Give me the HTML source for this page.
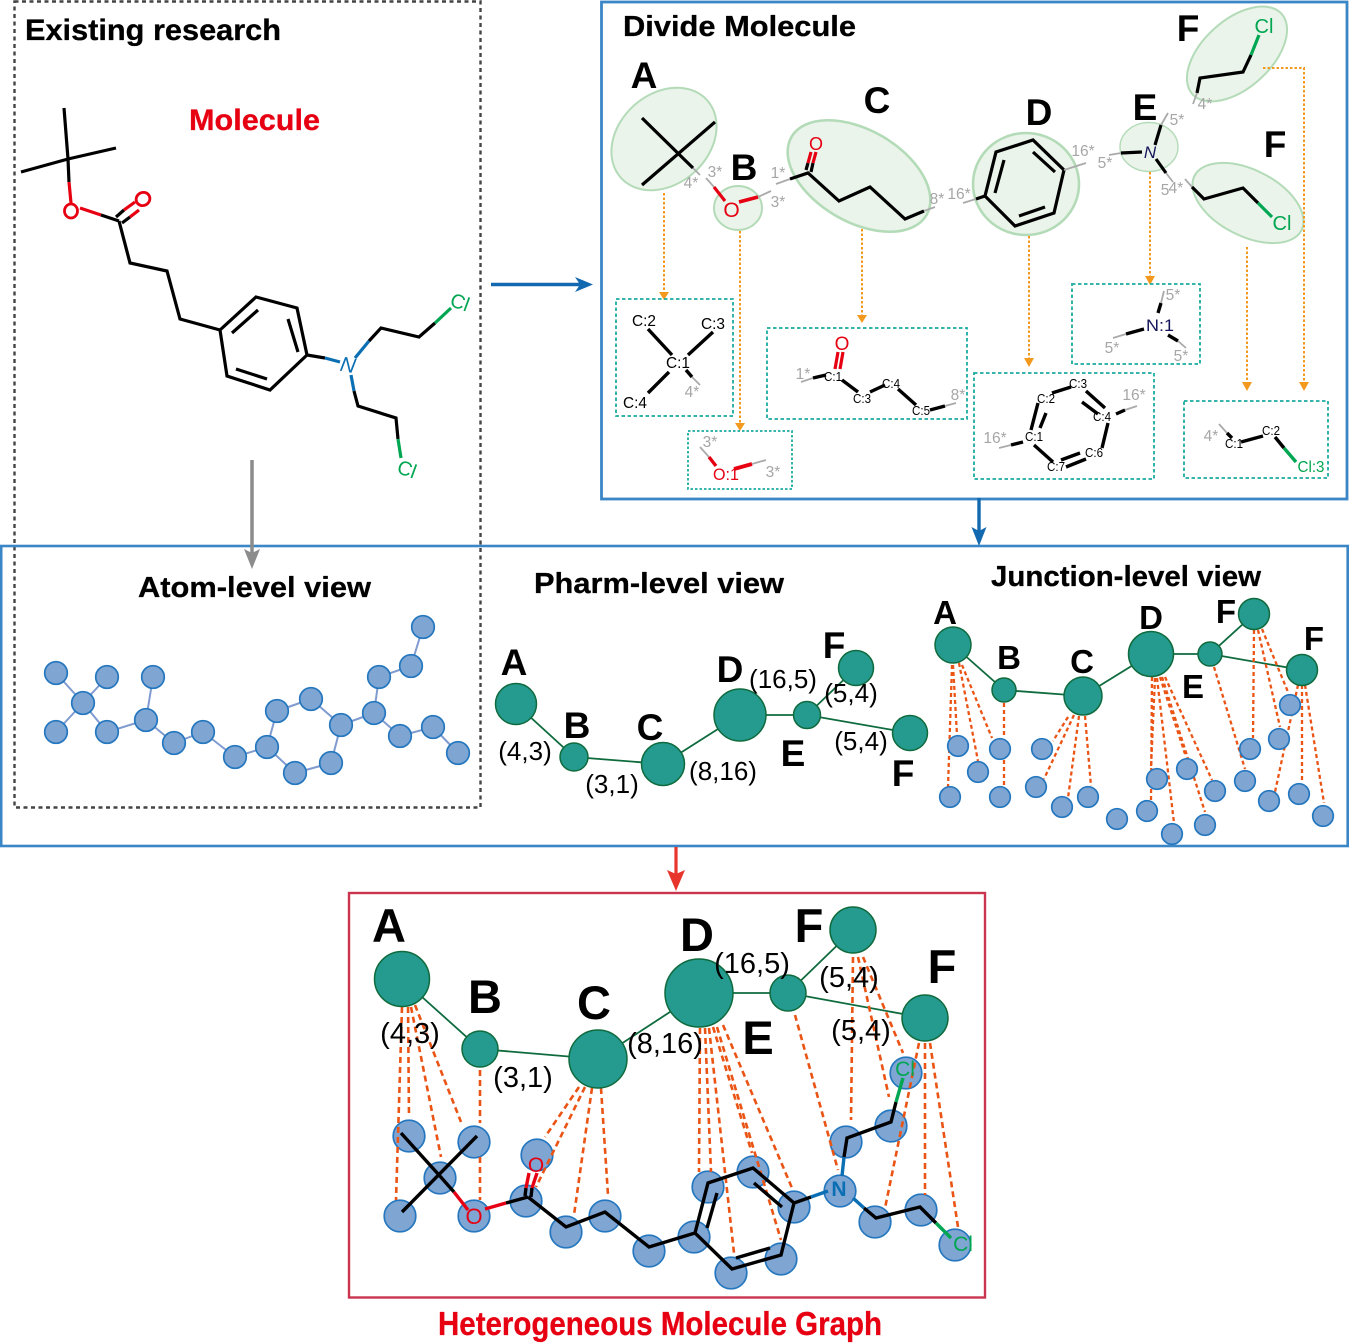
<!DOCTYPE html>
<html>
<head>
<meta charset="utf-8">
<style>
html,body{margin:0;padding:0;background:#fff;width:1349px;height:1343px;overflow:hidden}
svg{display:block}
text{font-family:"Liberation Sans",sans-serif}
.t{font-weight:bold;fill:#000;stroke:#000;stroke-width:.3}
.L{font-weight:bold;fill:#000;text-anchor:middle}
.p{fill:#000;text-anchor:middle}
.k{stroke:#000;stroke-width:3.2;fill:none;stroke-linejoin:miter}
.k2{stroke:#000;stroke-width:3.4;fill:none}
.r{stroke:#e60012;stroke-width:3.2;fill:none}
.g{stroke:#00a651;stroke-width:3.2;fill:none}
.b{stroke:#0b6fb3;stroke-width:3.2;fill:none}
.y{stroke:#aaa;stroke-width:1.8;fill:none}
.gt{fill:#a6a6a6;font-size:15.5px;text-anchor:middle}
.c{font-size:13px;fill:#000;text-anchor:middle}
.el{fill:#eaf4ea;stroke:#b4dbb8;stroke-width:2}
.o{stroke:#f39a1e;stroke-width:2;stroke-dasharray:2.5 2;fill:none}
.ah{fill:#f39a1e}
.tb{fill:none;stroke:#1aaba0;stroke-width:1.8;stroke-dasharray:3.5 2.5}
.e{stroke:#0f6b3e;stroke-width:1.8;fill:none}
.n{fill:#259a8e;stroke:#0f6b3e;stroke-width:1.5}
.s{fill:#7fa5d3;stroke:#2477bf;stroke-width:1.7}
.d{stroke:#ea5415;stroke-width:2.6;stroke-dasharray:6 4;fill:none}
.ae{stroke:#7f9bd0;stroke-width:2}
</style>
</head>
<body>
<svg width="1349" height="1343" viewBox="0 0 1349 1343" xmlns="http://www.w3.org/2000/svg">
<rect width="1349" height="1343" fill="#fff"/>

<!-- Frames -->
<rect x="14.5" y="1.5" width="466" height="806" fill="none" stroke="#444" stroke-width="2.4" stroke-dasharray="4 3.5"/>
<rect x="601.5" y="2" width="745.5" height="497" fill="none" stroke="#3b86c6" stroke-width="2.8"/>
<rect x="1.2" y="546" width="1346.5" height="300" fill="none" stroke="#3b86c6" stroke-width="2.6"/>
<rect x="349" y="893" width="636" height="404.5" fill="none" stroke="#c9344e" stroke-width="2.4"/>

<!-- Titles -->
<text class="t" x="25" y="40" font-size="30" textLength="256" lengthAdjust="spacingAndGlyphs">Existing research</text>
<text class="t" x="189" y="130" font-size="30" style="fill:#e60012;stroke:#e60012" textLength="131" lengthAdjust="spacingAndGlyphs">Molecule</text>
<text class="t" x="623" y="36" font-size="29" textLength="233" lengthAdjust="spacingAndGlyphs">Divide Molecule</text>
<text class="t" x="138" y="597" font-size="29" textLength="233" lengthAdjust="spacingAndGlyphs">Atom-level view</text>
<text class="t" x="534" y="593" font-size="29" textLength="250" lengthAdjust="spacingAndGlyphs">Pharm-level view</text>
<text class="t" x="991" y="586" font-size="29" textLength="270" lengthAdjust="spacingAndGlyphs">Junction-level view</text>
<text class="t" x="438" y="1335" font-size="33" style="fill:#e60012;stroke:#e60012" textLength="444" lengthAdjust="spacingAndGlyphs">Heterogeneous Molecule Graph</text>

<!-- Left molecule -->
<g>
<polyline class="k" points="64,108 68,159 69,182"/>
<polyline class="k" points="21,172 68,159 116,148"/>
<line class="r" x1="69" y1="182" x2="71" y2="203"/>
<ellipse cx="71" cy="211" rx="6.5" ry="7" fill="none" stroke="#e60012" stroke-width="2.8"/>
<line class="r" x1="80" y1="208" x2="101" y2="215"/>
<line class="k" x1="101" y1="215" x2="119" y2="221"/>
<line class="k" x1="116" y1="217" x2="124" y2="210"/>
<line class="r" x1="124" y1="210" x2="135" y2="202"/>
<line class="k" x1="122" y1="223" x2="130" y2="217"/>
<line class="r" x1="130" y1="217" x2="139" y2="210"/>
<ellipse cx="143" cy="199" rx="7" ry="6.5" fill="none" stroke="#e60012" stroke-width="2.8" transform="rotate(-30 143 199)"/>
<polyline class="k" points="119,221 130,263 167,271 180,319 220,330"/>
<polygon class="k" points="220,330 256,297 297,308 307,355 270,390 227,376"/>
<line class="k" x1="232" y1="333" x2="258" y2="310"/>
<line class="k" x1="288" y1="319" x2="298" y2="352"/>
<line class="k" x1="236" y1="369" x2="267" y2="379"/>
<line class="k" x1="307" y1="355" x2="325" y2="358"/>
<line class="b" x1="325" y1="358" x2="340" y2="362"/>
<text x="348" y="372" font-size="21" font-style="italic" fill="#0b6fb3" text-anchor="middle" transform="rotate(10 348 365)">N</text>
<line class="b" x1="355" y1="358" x2="369" y2="341"/>
<polyline class="k" points="369,341 381,328 419,337 435,323"/>
<line class="g" x1="435" y1="323" x2="451" y2="308"/>
<text x="460" y="309" font-size="20" fill="#00a651" text-anchor="middle" transform="rotate(20 460 302)">Cl</text>
<line class="b" x1="351" y1="375" x2="354" y2="391"/>
<polyline class="k" points="354,391 358,406 396,418 398,439"/>
<line class="g" x1="398" y1="439" x2="401" y2="458"/>
<text x="407" y="476" font-size="20" fill="#00a651" text-anchor="middle" transform="rotate(20 407 469)">Cl</text>
</g>

<!-- Main arrows -->
<line x1="491" y1="284.5" x2="588" y2="284.5" stroke="#1269b0" stroke-width="3.4"/>
<polygon points="575,277 593,284.5 575,292 580,284.5" fill="#1269b0"/>
<line x1="979" y1="498" x2="979" y2="536" stroke="#1269b0" stroke-width="3.4"/>
<polygon points="971.5,527 979,546 986.5,527 979,531" fill="#1269b0"/>
<line x1="252" y1="460" x2="252" y2="558" stroke="#8c8c8c" stroke-width="3.5"/>
<polygon points="244,549 252,569 260,549 252,553" fill="#8c8c8c"/>
<line x1="676" y1="847" x2="676" y2="880" stroke="#e8352b" stroke-width="3.2"/>
<polygon points="667,870 676,891 685,870 676,874" fill="#e8352b"/>

<!-- Divide: ellipses -->
<ellipse class="el" cx="664" cy="139" rx="45" ry="58" transform="rotate(48 664 139)"/>
<ellipse class="el" cx="738" cy="208" rx="24" ry="22"/>
<ellipse class="el" cx="859" cy="176" rx="78" ry="46" transform="rotate(30 859 176)" style="stroke-width:2.6"/>
<ellipse class="el" cx="1026" cy="184" rx="53" ry="51" style="stroke-width:2.6"/>
<ellipse class="el" cx="1149" cy="147" rx="29" ry="24.5" style="stroke-width:1.4"/>
<ellipse class="el" cx="1248" cy="203" rx="60" ry="33" transform="rotate(27 1248 203)"/>
<ellipse class="el" cx="1237" cy="54" rx="60" ry="34" transform="rotate(-42 1237 54)"/>

<!-- Divide: molecule -->
<g>
<line class="k" x1="642" y1="118" x2="693" y2="168"/>
<line class="k" x1="715" y1="122" x2="642" y2="185"/>
<line class="y" x1="693" y1="168" x2="700" y2="175"/>
<line class="y" x1="706" y1="178" x2="714" y2="187"/>
<line class="r" x1="714" y1="187" x2="725" y2="201"/>
<text x="731.5" y="217" font-size="21" fill="#e60012" text-anchor="middle">O</text>
<line class="r" x1="739" y1="202" x2="758" y2="197" style="stroke-width:3.6"/>
<line class="y" x1="758" y1="197" x2="771" y2="191"/>
<line class="y" x1="776" y1="184" x2="790" y2="179"/>
<polyline class="k" points="790,179 808,173 839,201 870,187 905,219 924,211"/>
<line class="y" x1="924" y1="211" x2="935" y2="207"/>
<line class="k" x1="806" y1="170" x2="808" y2="163"/><line class="k" x1="811" y1="172" x2="813" y2="163"/>
<line class="r" x1="808" y1="163" x2="811" y2="152"/><line class="r" x1="813" y1="163" x2="816" y2="152"/>
<text x="816" y="150" font-size="18" fill="#e60012" text-anchor="middle">O</text>
<line class="y" x1="963" y1="203" x2="976" y2="199"/>
<line class="k" x1="976" y1="199" x2="985" y2="196"/>
<polygon class="k" points="985,196 996,152 1033,140 1064,170 1054,213 1015,226"/>
<line class="k" x1="1004" y1="160" x2="995" y2="193"/>
<line class="k" x1="1033" y1="152" x2="1055" y2="172"/>
<line class="k" x1="1019" y1="216" x2="1045" y2="207"/>
<line class="y" x1="1064" y1="170" x2="1086" y2="163"/>
<line class="y" x1="1109" y1="155" x2="1121" y2="153"/>
<line class="k" x1="1121" y1="153" x2="1142" y2="152"/>
<text x="1150" y="158" font-size="17" font-style="italic" fill="#14145a" text-anchor="middle">N</text>
<line class="k" x1="1155" y1="145" x2="1161" y2="125"/>
<line class="y" x1="1161" y1="125" x2="1168" y2="113"/>
<line class="k" x1="1156" y1="159" x2="1166" y2="173"/>
<line class="y" x1="1166" y1="173" x2="1173" y2="182"/>
<line class="y" x1="1185" y1="179" x2="1192" y2="187"/>
<polyline class="k" points="1192,187 1204,199 1243,188 1258,203"/>
<line class="g" x1="1258" y1="203" x2="1272" y2="217"/>
<text x="1282" y="230" font-size="20" fill="#00a651" text-anchor="middle">Cl</text>
<text x="1264" y="33" font-size="20" fill="#00a651" text-anchor="middle">Cl</text>
<line class="g" x1="1259" y1="35" x2="1251" y2="55"/>
<polyline class="k" points="1251,55 1243,72 1200,78 1197,93"/>
<line class="y" x1="1197" y1="93" x2="1193" y2="104"/>
<text class="gt" x="691" y="188">4*</text>
<text class="gt" x="715" y="177">3*</text>
<text class="gt" x="778" y="178">1*</text>
<text class="gt" x="778" y="207">3*</text>
<text class="gt" x="937" y="204">8*</text>
<text class="gt" x="959" y="199">16*</text>
<text class="gt" x="1083" y="156">16*</text>
<text class="gt" x="1105" y="168">5*</text>
<text class="gt" x="1177" y="125">5*</text>
<text class="gt" x="1165" y="195">5</text><text class="gt" x="1176" y="193">4*</text>
<text class="gt" x="1205" y="109">4*</text>
</g>
<text class="L" x="644" y="88" font-size="37">A</text>
<text class="L" x="744" y="180" font-size="37">B</text>
<text class="L" x="877" y="113" font-size="37">C</text>
<text class="L" x="1039" y="125" font-size="37">D</text>
<text class="L" x="1145" y="120" font-size="37">E</text>
<text class="L" x="1188" y="41" font-size="37">F</text>
<text class="L" x="1275" y="157" font-size="37">F</text>

<!-- Orange connectors -->
<path class="o" d="M664 193V293M740 231V424M862 229V316M1029 236V360M1150 172V278M1247 247V384M1263 68H1304V384"/>
<polygon class="ah" points="659,292 669,292 664,300"/>
<polygon class="ah" points="735,423 745,423 740,431"/>
<polygon class="ah" points="857,315 867,315 862,323"/>
<polygon class="ah" points="1024,358 1034,358 1029,367"/>
<polygon class="ah" points="1145,276 1155,276 1150,285"/>
<polygon class="ah" points="1242,382 1252,382 1247,391"/>
<polygon class="ah" points="1299,382 1309,382 1304,391"/>

<!-- Teal boxes -->
<rect class="tb" x="616" y="299" width="117" height="117"/>
<rect class="tb" x="688" y="431" width="104" height="58" style="stroke-dasharray:2.5 2"/>
<rect class="tb" x="767" y="328" width="200" height="91"/>
<rect class="tb" x="974" y="373" width="180" height="106"/>
<rect class="tb" x="1072" y="284" width="128" height="80"/>
<rect class="tb" x="1184" y="401" width="144" height="77"/>

<!-- Box 1 -->
<g>
<line class="k2" x1="648" y1="329" x2="672" y2="355"/>
<line class="k2" x1="713" y1="332" x2="688" y2="355"/>
<line class="k2" x1="669" y1="372" x2="648" y2="393"/>
<line class="k2" x1="686" y1="370" x2="692" y2="377"/>
<line class="y" x1="692" y1="377" x2="700" y2="385"/>
<text x="644" y="326" font-size="16" text-anchor="middle" textLength="24" lengthAdjust="spacingAndGlyphs">C:2</text>
<text x="713" y="329" font-size="16" text-anchor="middle" textLength="24" lengthAdjust="spacingAndGlyphs">C:3</text>
<text x="678" y="368" font-size="16" text-anchor="middle" textLength="24" lengthAdjust="spacingAndGlyphs">C:1</text>
<text x="635" y="408" font-size="16" text-anchor="middle" textLength="24" lengthAdjust="spacingAndGlyphs">C:4</text>
<text class="gt" x="692" y="397">4*</text>
</g>
<!-- Box O -->
<g>
<line class="y" x1="700" y1="447" x2="709" y2="457"/>
<line class="r" x1="709" y1="457" x2="716" y2="466" style="stroke-width:3.4"/>
<line class="r" x1="734" y1="469" x2="752" y2="464" style="stroke-width:3.8"/>
<line class="y" x1="752" y1="464" x2="766" y2="460"/>
<text x="726" y="480" font-size="17" fill="#e60012" text-anchor="middle" textLength="26" lengthAdjust="spacingAndGlyphs">O:1</text>
<text class="gt" x="710" y="447">3*</text>
<text class="gt" x="773" y="477">3*</text>
</g>
<!-- Box C -->
<g>
<line class="y" x1="801" y1="382" x2="813" y2="378"/>
<line class="k2" x1="813" y1="378" x2="826" y2="375"/>
<line class="k2" x1="842" y1="380" x2="858" y2="392"/>
<line class="k2" x1="870" y1="392" x2="885" y2="385"/>
<line class="k2" x1="898" y1="389" x2="916" y2="405"/>
<line class="k2" x1="930" y1="410" x2="945" y2="406"/>
<line class="y" x1="945" y1="406" x2="956" y2="403"/>
<line class="r" x1="835" y1="369" x2="838" y2="352"/><line class="r" x1="840" y1="369" x2="843" y2="352"/>
<text x="842" y="350" font-size="19" fill="#e60012" text-anchor="middle">O</text>
<text class="c" x="833" y="381" textLength="18" lengthAdjust="spacingAndGlyphs">C:1</text>
<text class="c" x="862" y="403" textLength="18" lengthAdjust="spacingAndGlyphs">C:3</text>
<text class="c" x="891" y="388" textLength="18" lengthAdjust="spacingAndGlyphs">C:4</text>
<text class="c" x="921" y="415" textLength="18" lengthAdjust="spacingAndGlyphs">C:5</text>
<text class="gt" x="803" y="379">1*</text>
<text class="gt" x="958" y="400">8*</text>
</g>
<!-- Box D -->
<g>
<line class="k2" x1="1052" y1="393" x2="1071" y2="387"/>
<line class="k2" x1="1086" y1="391" x2="1105" y2="408"/>
<line class="k2" x1="1082" y1="402" x2="1098" y2="414"/>
<line class="k2" x1="1108" y1="423" x2="1102" y2="448"/>
<line class="k2" x1="1080" y1="453" x2="1061" y2="460"/>
<line class="k2" x1="1086" y1="459" x2="1066" y2="467"/>
<line class="k2" x1="1053" y1="462" x2="1034" y2="445"/>
<line class="k2" x1="1031" y1="430" x2="1038" y2="403"/>
<line class="k2" x1="1040" y1="428" x2="1046" y2="413"/>
<line class="k2" x1="1125" y1="410" x2="1116" y2="414"/>
<line class="y" x1="1125" y1="410" x2="1137" y2="406"/>
<line class="k2" x1="1023" y1="442" x2="1011" y2="445"/>
<line class="y" x1="1011" y1="445" x2="999" y2="448"/>
<text class="c" x="1078" y="388" textLength="18" lengthAdjust="spacingAndGlyphs">C:3</text>
<text class="c" x="1046" y="403" textLength="18" lengthAdjust="spacingAndGlyphs">C:2</text>
<text class="c" x="1102" y="421" textLength="18" lengthAdjust="spacingAndGlyphs">C:4</text>
<text class="c" x="1034" y="441" textLength="18" lengthAdjust="spacingAndGlyphs">C:1</text>
<text class="c" x="1094" y="457" textLength="18" lengthAdjust="spacingAndGlyphs">C:6</text>
<text class="c" x="1056" y="471" textLength="18" lengthAdjust="spacingAndGlyphs">C:7</text>
<text class="gt" x="1134" y="400">16*</text>
<text class="gt" x="995" y="443">16*</text>
</g>
<!-- Box N -->
<g>
<line class="k2" x1="1158" y1="313" x2="1161" y2="303"/>
<line class="y" x1="1161" y1="303" x2="1164" y2="291"/>
<line class="k2" x1="1144" y1="329" x2="1126" y2="334"/>
<line class="y" x1="1126" y1="334" x2="1113" y2="338"/>
<line class="k2" x1="1168" y1="335" x2="1178" y2="341"/>
<line class="y" x1="1178" y1="341" x2="1186" y2="348"/>
<text x="1160" y="331" font-size="17" fill="#14145a" text-anchor="middle" textLength="28" lengthAdjust="spacingAndGlyphs">N:1</text>
<text class="gt" x="1173" y="300">5*</text>
<text class="gt" x="1112" y="353">5*</text>
<text class="gt" x="1181" y="361">5*</text>
</g>
<!-- Box F -->
<g>
<line class="y" x1="1219" y1="424" x2="1227" y2="433"/>
<line class="k2" x1="1227" y1="433" x2="1232" y2="438"/>
<line class="k2" x1="1241" y1="442" x2="1263" y2="436"/>
<line class="k2" x1="1275" y1="437" x2="1284" y2="448"/>
<line class="g" x1="1284" y1="448" x2="1296" y2="462" style="stroke-width:3.4"/>
<text class="c" x="1234" y="448" textLength="18" lengthAdjust="spacingAndGlyphs">C:1</text>
<text class="c" x="1271" y="435" textLength="18" lengthAdjust="spacingAndGlyphs">C:2</text>
<text x="1311" y="472" font-size="16" fill="#00a651" text-anchor="middle" textLength="27" lengthAdjust="spacingAndGlyphs">Cl:3</text>
<text class="gt" x="1211" y="441">4*</text>
</g>

<!-- Atom-level view -->
<g class="ae">
<line x1="56" y1="673" x2="83" y2="703"/><line x1="107" y1="677" x2="83" y2="703"/><line x1="56" y1="732" x2="83" y2="703"/><line x1="83" y1="703" x2="107" y2="732"/>
<line x1="107" y1="732" x2="146" y2="720"/><line x1="153" y1="677" x2="146" y2="720"/><line x1="146" y1="720" x2="174" y2="743"/><line x1="174" y1="743" x2="203" y2="732"/>
<line x1="203" y1="732" x2="235" y2="757"/><line x1="235" y1="757" x2="267" y2="747"/><line x1="267" y1="747" x2="277" y2="711"/><line x1="277" y1="711" x2="311" y2="699"/>
<line x1="311" y1="699" x2="341" y2="725"/><line x1="341" y1="725" x2="374" y2="713"/><line x1="374" y1="713" x2="379" y2="677"/><line x1="379" y1="677" x2="411" y2="666"/>
<line x1="411" y1="666" x2="423" y2="627"/><line x1="374" y1="713" x2="400" y2="736"/><line x1="400" y1="736" x2="433" y2="727"/><line x1="433" y1="727" x2="458" y2="753"/>
<line x1="267" y1="747" x2="295" y2="773"/><line x1="295" y1="773" x2="331" y2="763"/><line x1="331" y1="763" x2="341" y2="725"/>
</g>
<g class="s">
<circle cx="56" cy="673" r="11.3"/><circle cx="107" cy="677" r="11.3"/><circle cx="153" cy="677" r="11.3"/><circle cx="83" cy="703" r="11.3"/><circle cx="56" cy="732" r="11.3"/><circle cx="107" cy="732" r="11.3"/>
<circle cx="146" cy="720" r="11.3"/><circle cx="174" cy="743" r="11.3"/><circle cx="203" cy="732" r="11.3"/><circle cx="235" cy="757" r="11.3"/><circle cx="267" cy="747" r="11.3"/><circle cx="277" cy="711" r="11.3"/>
<circle cx="311" cy="699" r="11.3"/><circle cx="341" cy="725" r="11.3"/><circle cx="374" cy="713" r="11.3"/><circle cx="379" cy="677" r="11.3"/><circle cx="411" cy="666" r="11.3"/><circle cx="423" cy="627" r="11.3"/>
<circle cx="400" cy="736" r="11.3"/><circle cx="433" cy="727" r="11.3"/><circle cx="458" cy="753" r="11.3"/><circle cx="295" cy="773" r="11.3"/><circle cx="331" cy="763" r="11.3"/>
</g>

<!-- Pharm-level view -->
<polyline class="e" points="516,704 574,757 663,764 740,715 807,715 856,668"/>
<line class="e" x1="807" y1="715" x2="910" y2="733"/>
<g class="n">
<circle cx="516" cy="704" r="20.5"/><circle cx="574" cy="757" r="14"/><circle cx="663" cy="764" r="21.5"/><circle cx="740" cy="715" r="26"/><circle cx="807" cy="715" r="13.5"/><circle cx="856" cy="668" r="17.5"/><circle cx="910" cy="733" r="17.5"/>
</g>
<text class="L" x="514" y="675" font-size="37">A</text>
<text class="L" x="577" y="738" font-size="37">B</text>
<text class="L" x="650" y="740" font-size="37">C</text>
<text class="L" x="730" y="682" font-size="37">D</text>
<text class="L" x="834" y="658" font-size="37">F</text>
<text class="L" x="793" y="766" font-size="37">E</text>
<text class="L" x="903" y="786" font-size="37">F</text>
<text class="p" x="525" y="760" font-size="26">(4,3)</text>
<text class="p" x="612" y="793" font-size="26">(3,1)</text>
<text class="p" x="723" y="780" font-size="26">(8,16)</text>
<text class="p" x="783" y="688" font-size="26">(16,5)</text>
<text class="p" x="851" y="702" font-size="26">(5,4)</text>
<text class="p" x="861" y="750" font-size="26">(5,4)</text>

<!-- Junction-level view -->
<polyline class="e" points="953,645 1004,690 1083,696 1151,654 1210,654 1254,614"/>
<line class="e" x1="1210" y1="654" x2="1302" y2="670"/>
<g class="d" style="stroke-width:2.3;stroke-dasharray:4 3">
<line x1="952" y1="665" x2="948" y2="787"/><line x1="953" y1="665" x2="957" y2="735"/><line x1="959" y1="663" x2="978" y2="761"/><line x1="962" y1="665" x2="992" y2="738"/>
<line x1="1004" y1="703" x2="1004" y2="738"/><line x1="1004" y1="760" x2="1004" y2="787"/>
<line x1="1068" y1="717" x2="1053" y2="741"/><line x1="1074" y1="715" x2="1044" y2="779"/><line x1="1079" y1="716" x2="1068" y2="798"/><line x1="1085" y1="716" x2="1091" y2="786"/>
<line x1="1152" y1="677" x2="1151" y2="800"/><line x1="1155" y1="678" x2="1151" y2="767"/><line x1="1157" y1="678" x2="1174" y2="823"/><line x1="1160" y1="677" x2="1186" y2="757"/><line x1="1162" y1="677" x2="1205" y2="812"/><line x1="1165" y1="677" x2="1212" y2="780"/>
<line x1="1214" y1="667" x2="1245" y2="769"/>
<line x1="1254" y1="630" x2="1253" y2="738"/><line x1="1258" y1="630" x2="1280" y2="727"/><line x1="1262" y1="629" x2="1288" y2="692"/>
<line x1="1298" y1="685" x2="1275" y2="792"/><line x1="1302" y1="685" x2="1302" y2="783"/><line x1="1305" y1="685" x2="1324" y2="803"/>
</g>
<g class="n">
<circle cx="953" cy="645" r="18"/><circle cx="1004" cy="690" r="12"/><circle cx="1083" cy="696" r="19"/><circle cx="1151" cy="654" r="22.5"/><circle cx="1210" cy="654" r="12"/><circle cx="1254" cy="614" r="15.5"/><circle cx="1302" cy="670" r="15.5"/>
</g>
<g class="s">
<circle cx="958" cy="746" r="10.3"/><circle cx="1000" cy="749" r="10.3"/><circle cx="978" cy="772" r="10.3"/><circle cx="950" cy="797" r="10.3"/><circle cx="1000" cy="797" r="10.3"/>
<circle cx="1042" cy="749" r="10.3"/><circle cx="1036" cy="787" r="10.3"/><circle cx="1062" cy="807" r="10.3"/><circle cx="1088" cy="797" r="10.3"/>
<circle cx="1117" cy="819" r="10.3"/><circle cx="1157" cy="779" r="10.3"/><circle cx="1147" cy="811" r="10.3"/><circle cx="1172" cy="834" r="10.3"/><circle cx="1187" cy="769" r="10.3"/><circle cx="1215" cy="791" r="10.3"/><circle cx="1205" cy="825" r="10.3"/>
<circle cx="1250" cy="749" r="10.3"/><circle cx="1245" cy="781" r="10.3"/><circle cx="1279" cy="739" r="10.3"/><circle cx="1290" cy="705" r="10.3"/><circle cx="1269" cy="801" r="10.3"/><circle cx="1299" cy="794" r="10.3"/><circle cx="1323" cy="816" r="10.3"/>
</g>
<text class="L" x="945" y="624" font-size="33">A</text>
<text class="L" x="1009" y="669" font-size="33">B</text>
<text class="L" x="1082" y="673" font-size="33">C</text>
<text class="L" x="1151" y="629" font-size="33">D</text>
<text class="L" x="1193" y="698" font-size="33">E</text>
<text class="L" x="1226" y="623" font-size="33">F</text>
<text class="L" x="1314" y="650" font-size="33">F</text>

<!-- Heterogeneous graph -->
<polyline class="e" points="402,979 480,1049 598,1059 699,993 788,993 853,930"/>
<line class="e" x1="788" y1="993" x2="925" y2="1018"/>
<g class="s">
<circle cx="409" cy="1136" r="15.8"/><circle cx="440" cy="1178" r="15.8"/><circle cx="474" cy="1142" r="15.8"/><circle cx="400" cy="1216" r="15.8"/><circle cx="474" cy="1216" r="15.8"/>
<circle cx="537" cy="1155" r="15.8"/><circle cx="526" cy="1201" r="15.8"/><circle cx="566" cy="1232" r="15.8"/><circle cx="605" cy="1216" r="15.8"/><circle cx="649" cy="1251" r="15.8"/>
<circle cx="694" cy="1237" r="15.8"/><circle cx="708" cy="1187" r="15.8"/><circle cx="753" cy="1172" r="15.8"/><circle cx="794" cy="1207" r="15.8"/><circle cx="840" cy="1191" r="15.8"/>
<circle cx="846" cy="1142" r="15.8"/><circle cx="891" cy="1126" r="15.8"/><circle cx="906" cy="1073" r="15.8"/><circle cx="875" cy="1222" r="15.8"/><circle cx="921" cy="1210" r="15.8"/><circle cx="955" cy="1245" r="15.8"/>
<circle cx="781" cy="1259" r="15.8"/><circle cx="731" cy="1273" r="15.8"/>
</g>
<g class="d">
<line x1="402" y1="1007" x2="396" y2="1200"/><line x1="408" y1="1007" x2="409" y2="1117"/><line x1="411" y1="1007" x2="441" y2="1157"/><line x1="415" y1="1005" x2="461" y2="1122"/>
<line x1="480" y1="1070" x2="480" y2="1123"/><line x1="480" y1="1157" x2="480" y2="1200"/>
<line x1="579" y1="1087" x2="545" y2="1137"/><line x1="585" y1="1087" x2="536" y2="1187"/><line x1="592" y1="1088" x2="574" y2="1215"/><line x1="601" y1="1088" x2="608" y2="1195"/>
<line x1="700" y1="1028" x2="699" y2="1172"/><line x1="705" y1="1028" x2="711" y2="1172"/><line x1="709" y1="1028" x2="734" y2="1253"/><line x1="713" y1="1027" x2="752" y2="1153"/><line x1="717" y1="1027" x2="781" y2="1240"/><line x1="723" y1="1025" x2="792" y2="1188"/>
<line x1="795" y1="1015" x2="838" y2="1170"/>
<line x1="853" y1="957" x2="851" y2="1120"/><line x1="858" y1="957" x2="889" y2="1097"/><line x1="863" y1="957" x2="903" y2="1053"/>
<line x1="919" y1="1043" x2="885" y2="1208"/><line x1="925" y1="1043" x2="925" y2="1195"/><line x1="930" y1="1043" x2="958" y2="1227"/>
</g>
<g class="n">
<circle cx="402" cy="979" r="27.5"/><circle cx="480" cy="1049" r="18"/><circle cx="598" cy="1059" r="29"/><circle cx="699" cy="993" r="34"/><circle cx="788" cy="993" r="18"/><circle cx="853" cy="930" r="23"/><circle cx="925" cy="1018" r="23"/>
</g>
<!-- overlay molecule -->
<g>
<polyline class="k" points="401,1133 439,1175 454,1192" style="stroke-width:3.4"/>
<line class="k" x1="477" y1="1136" x2="402" y2="1212" style="stroke-width:3.4"/>
<line class="r" x1="454" y1="1192" x2="468" y2="1210" style="stroke-width:3.4"/>
<text x="474" y="1224" font-size="22" fill="#e60012" text-anchor="middle">O</text>
<line class="r" x1="485" y1="1209" x2="506" y2="1203" style="stroke-width:3.4"/>
<line class="k" x1="506" y1="1203" x2="528" y2="1197" style="stroke-width:3.4"/>
<line class="k" x1="525" y1="1196" x2="526" y2="1188" style="stroke-width:3.4"/>
<line class="k" x1="531" y1="1197" x2="532" y2="1188" style="stroke-width:3.4"/>
<line class="r" x1="526" y1="1188" x2="529" y2="1173" style="stroke-width:3.4"/>
<line class="r" x1="532" y1="1188" x2="537" y2="1173" style="stroke-width:3.4"/>
<text x="536" y="1172" font-size="21" fill="#e60012" text-anchor="middle">O</text>
<polyline class="k" points="528,1197 566,1227 605,1212 649,1247 695,1233" style="stroke-width:3.4"/>
<polygon class="k" points="695,1233 708,1183 753,1168 794,1203 781,1255 732,1269" style="stroke-width:3.4"/>
<line class="k" x1="717" y1="1193" x2="707" y2="1228" style="stroke-width:3.4"/>
<line class="k" x1="754" y1="1183" x2="782" y2="1207" style="stroke-width:3.4"/>
<line class="k" x1="736" y1="1258" x2="770" y2="1248" style="stroke-width:3.4"/>
<line class="k" x1="794" y1="1203" x2="811" y2="1197" style="stroke-width:3.4"/>
<line class="b" x1="811" y1="1197" x2="828" y2="1191" style="stroke-width:3.4"/>
<text x="839" y="1196" font-size="21" font-weight="bold" fill="#0b6fb3" text-anchor="middle">N</text>
<line class="b" x1="842" y1="1176" x2="844" y2="1157" style="stroke-width:3.4"/>
<polyline class="k" points="844,1157 847,1138 891,1122 896,1102" style="stroke-width:3.4"/>
<line class="g" x1="896" y1="1102" x2="903" y2="1078" style="stroke-width:3.4"/>
<text x="905" y="1076" font-size="21" fill="#00a651" text-anchor="middle">Cl</text>
<line class="b" x1="853" y1="1198" x2="864" y2="1208" style="stroke-width:3.4"/>
<polyline class="k" points="864,1208 876,1218 920,1207 936,1223" style="stroke-width:3.4"/>
<line class="g" x1="936" y1="1223" x2="951" y2="1238" style="stroke-width:3.4"/>
<text x="963" y="1251" font-size="21" fill="#00a651" text-anchor="middle">Cl</text>
</g>
<text class="L" x="389" y="942" font-size="47">A</text>
<text class="L" x="485" y="1013" font-size="47">B</text>
<text class="L" x="594" y="1019" font-size="47">C</text>
<text class="L" x="697" y="951" font-size="47">D</text>
<text class="L" x="758" y="1054" font-size="47">E</text>
<text class="L" x="809" y="942" font-size="47">F</text>
<text class="L" x="942" y="983" font-size="47">F</text>
<text class="p" x="410" y="1043" font-size="29">(4,3)</text>
<text class="p" x="523" y="1087" font-size="29">(3,1)</text>
<text class="p" x="665" y="1053" font-size="29">(8,16)</text>
<text class="p" x="752" y="973" font-size="29">(16,5)</text>
<text class="p" x="849" y="987" font-size="29">(5,4)</text>
<text class="p" x="861" y="1040" font-size="29">(5,4)</text>
</svg>
</body>
</html>
